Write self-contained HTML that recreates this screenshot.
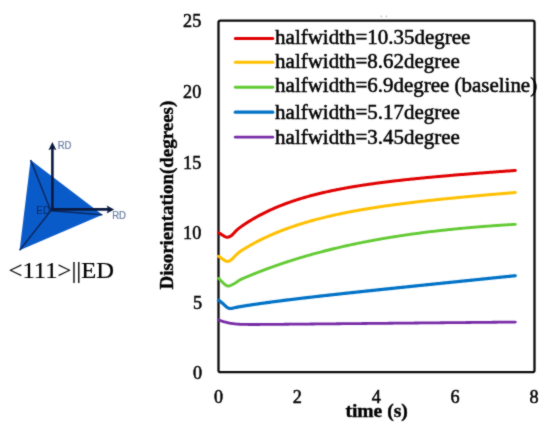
<!DOCTYPE html>
<html><head><meta charset="utf-8"><style>
html,body{margin:0;padding:0;background:#fff;}
svg{display:block;}
.tk{font-family:"Liberation Serif",serif;font-size:18.2px;fill:#000;stroke:#000;stroke-width:0.5px;}
.ax{font-family:"Liberation Serif",serif;font-size:18.7px;font-weight:bold;fill:#000;stroke:#000;stroke-width:0.4px;}
.lg{font-family:"Liberation Serif",serif;font-size:20.8px;fill:#000;stroke:#000;stroke-width:0.5px;}
.big{font-family:"Liberation Serif",serif;font-size:23px;fill:#000;stroke:#000;stroke-width:0.2px;}
.rd{font-family:"Liberation Sans",sans-serif;font-size:10.6px;fill:#6a7fa2;stroke:#6a7fa2;stroke-width:0.25px;}
.ed{font-family:"Liberation Sans",sans-serif;font-size:10.5px;fill:#0a2860;}
</style></head><body>
<svg width="550" height="432" viewBox="0 0 550 432">
<defs><filter id="soft" x="0" y="0" width="550" height="432" filterUnits="userSpaceOnUse" color-interpolation-filters="sRGB"><feConvolveMatrix order="3" kernelMatrix="1 2 1 2 16 2 1 2 1" divisor="28" edgeMode="duplicate"/></filter></defs>
<g filter="url(#soft)">
<rect width="550" height="432" fill="#fff"/>
<polygon points="30.6,160.0 102.4,214.7 19.6,250.2" fill="#0a5bca"/>
<line x1="50.8" y1="210.8" x2="30.6" y2="160.0" stroke="#0a2860" stroke-width="1.5"/>
<line x1="50.8" y1="210.8" x2="19.6" y2="250.2" stroke="#0a2860" stroke-width="1.5"/>
<line x1="50.8" y1="210.8" x2="102.4" y2="214.7" stroke="#0a2860" stroke-width="1.5"/>
<text transform="translate(36.3,213.6) scale(0.95,1)" class="ed">ED</text>
<line x1="52.4" y1="210.8" x2="52.4" y2="148" stroke="#0a1a40" stroke-width="2.6"/>
<polygon points="52.4,142 56.4,150.2 52.4,148.4 48.4,150.2" fill="#0a1a40"/>
<line x1="51.1" y1="209.4" x2="109" y2="209.4" stroke="#0a1a40" stroke-width="2.6"/>
<polygon points="114.2,209.4 106.6,205.4 108.2,209.4 106.6,213.4" fill="#0a1a40"/>
<text transform="translate(57.7,149.3) scale(0.9,1)" class="rd">RD</text>
<text transform="translate(112.2,219.0) scale(0.9,1)" class="rd">RD</text>
<text transform="translate(8.6,277.8) scale(1.07,1)" class="big">&lt;111&gt;||ED</text>
<rect x="218.5" y="20.6" width="316.0" height="351.6" fill="none" stroke="#0a0a0a" stroke-width="2.3" rx="2"/>
<path d="M218.5 232.75 L219.5 233.24 L220.5 233.86 L221.5 234.50 L222.5 235.12 L223.5 235.75 L224.5 236.36 L225.5 236.87 L226.5 237.18 L227.5 237.25 L228.5 237.08 L229.5 236.72 L230.5 236.21 L231.5 235.53 L232.5 234.63 L233.5 233.55 L234.5 232.43 L235.5 231.36 L236.5 230.39 L237.5 229.49 L238.5 228.64 L239.5 227.83 L240.5 227.07 L241.5 226.36 L242.5 225.67 L243.5 225.00 L244.5 224.33 L245.5 223.67 L246.5 223.02 L247.5 222.38 L248.5 221.75 L249.5 221.13 L250.5 220.52 L251.5 219.92 L252.5 219.32 L253.5 218.74 L254.5 218.16 L255.5 217.59 L256.5 217.03 L257.5 216.47 L258.5 215.93 L259.5 215.39 L260.5 214.86 L261.5 214.33 L262.5 213.82 L263.5 213.31 L264.5 212.81 L265.5 212.32 L266.5 211.83 L267.5 211.35 L268.5 210.87 L269.5 210.41 L270.5 209.95 L271.5 209.49 L272.5 209.04 L273.5 208.60 L274.5 208.17 L275.5 207.74 L276.5 207.31 L277.5 206.89 L278.5 206.48 L279.5 206.07 L280.5 205.67 L281.5 205.28 L282.5 204.88 L283.5 204.50 L284.5 204.12 L285.5 203.74 L286.5 203.37 L287.5 203.01 L288.5 202.65 L289.5 202.29 L290.5 201.94 L291.5 201.59 L292.5 201.25 L293.5 200.92 L294.5 200.58 L295.5 200.25 L296.5 199.93 L297.5 199.61 L298.5 199.29 L299.5 198.98 L300.5 198.67 L301.5 198.37 L302.5 198.07 L303.5 197.77 L304.5 197.48 L305.5 197.19 L306.5 196.90 L307.5 196.62 L308.5 196.34 L309.5 196.07 L310.5 195.80 L311.5 195.53 L312.5 195.26 L313.5 195.00 L314.5 194.74 L315.5 194.49 L316.5 194.24 L317.5 193.99 L318.5 193.74 L319.5 193.50 L320.5 193.26 L321.5 193.02 L322.5 192.78 L323.5 192.55 L324.5 192.32 L325.5 192.09 L326.5 191.87 L327.5 191.65 L328.5 191.43 L329.5 191.21 L330.5 191.00 L331.5 190.79 L332.5 190.58 L333.5 190.37 L334.5 190.17 L335.5 189.96 L336.5 189.76 L337.5 189.57 L338.5 189.37 L339.5 189.18 L340.5 188.98 L341.5 188.79 L342.5 188.61 L343.5 188.42 L344.5 188.24 L345.5 188.06 L346.5 187.88 L347.5 187.70 L348.5 187.52 L349.5 187.35 L350.5 187.18 L351.5 187.00 L352.5 186.84 L353.5 186.67 L354.5 186.50 L355.5 186.34 L356.5 186.18 L357.5 186.01 L358.5 185.86 L359.5 185.70 L360.5 185.54 L361.5 185.39 L362.5 185.23 L363.5 185.08 L364.5 184.93 L365.5 184.78 L366.5 184.63 L367.5 184.49 L368.5 184.34 L369.5 184.20 L370.5 184.06 L371.5 183.92 L372.5 183.78 L373.5 183.64 L374.5 183.50 L375.5 183.36 L376.5 183.23 L377.5 183.09 L378.5 182.96 L379.5 182.83 L380.5 182.70 L381.5 182.57 L382.5 182.44 L383.5 182.31 L384.5 182.19 L385.5 182.06 L386.5 181.94 L387.5 181.81 L388.5 181.69 L389.5 181.57 L390.5 181.45 L391.5 181.33 L392.5 181.21 L393.5 181.09 L394.5 180.97 L395.5 180.86 L396.5 180.74 L397.5 180.63 L398.5 180.51 L399.5 180.40 L400.5 180.29 L401.5 180.18 L402.5 180.07 L403.5 179.96 L404.5 179.85 L405.5 179.74 L406.5 179.63 L407.5 179.52 L408.5 179.42 L409.5 179.31 L410.5 179.21 L411.5 179.10 L412.5 179.00 L413.5 178.90 L414.5 178.79 L415.5 178.69 L416.5 178.59 L417.5 178.49 L418.5 178.39 L419.5 178.29 L420.5 178.19 L421.5 178.09 L422.5 178.00 L423.5 177.90 L424.5 177.80 L425.5 177.71 L426.5 177.61 L427.5 177.52 L428.5 177.42 L429.5 177.33 L430.5 177.23 L431.5 177.14 L432.5 177.05 L433.5 176.96 L434.5 176.87 L435.5 176.77 L436.5 176.68 L437.5 176.59 L438.5 176.50 L439.5 176.41 L440.5 176.32 L441.5 176.24 L442.5 176.15 L443.5 176.06 L444.5 175.97 L445.5 175.89 L446.5 175.80 L447.5 175.71 L448.5 175.63 L449.5 175.54 L450.5 175.46 L451.5 175.37 L452.5 175.29 L453.5 175.20 L454.5 175.12 L455.5 175.03 L456.5 174.95 L457.5 174.87 L458.5 174.79 L459.5 174.70 L460.5 174.62 L461.5 174.54 L462.5 174.46 L463.5 174.38 L464.5 174.30 L465.5 174.21 L466.5 174.13 L467.5 174.05 L468.5 173.97 L469.5 173.89 L470.5 173.82 L471.5 173.74 L472.5 173.66 L473.5 173.58 L474.5 173.50 L475.5 173.42 L476.5 173.34 L477.5 173.27 L478.5 173.19 L479.5 173.11 L480.5 173.04 L481.5 172.96 L482.5 172.88 L483.5 172.81 L484.5 172.73 L485.5 172.65 L486.5 172.58 L487.5 172.50 L488.5 172.43 L489.5 172.35 L490.5 172.28 L491.5 172.20 L492.5 172.13 L493.5 172.05 L494.5 171.98 L495.5 171.90 L496.5 171.83 L497.5 171.76 L498.5 171.68 L499.5 171.61 L500.5 171.54 L501.5 171.46 L502.5 171.39 L503.5 171.32 L504.5 171.25 L505.5 171.17 L506.5 171.10 L507.5 171.03 L508.5 170.96 L509.5 170.88 L510.5 170.81 L511.5 170.74 L512.5 170.67 L513.5 170.60 L514.5 170.53 L515.3 170.49" fill="none" stroke="#e00000" stroke-width="3.0" stroke-linecap="round" stroke-linejoin="round"/>
<path d="M218.5 256.29 L219.5 256.83 L220.5 257.54 L221.5 258.26 L222.5 258.96 L223.5 259.68 L224.5 260.37 L225.5 260.97 L226.5 261.38 L227.5 261.52 L228.5 261.35 L229.5 260.91 L230.5 260.29 L231.5 259.54 L232.5 258.64 L233.5 257.62 L234.5 256.56 L235.5 255.53 L236.5 254.56 L237.5 253.63 L238.5 252.75 L239.5 251.93 L240.5 251.19 L241.5 250.54 L242.5 249.92 L243.5 249.31 L244.5 248.70 L245.5 248.10 L246.5 247.51 L247.5 246.92 L248.5 246.34 L249.5 245.77 L250.5 245.20 L251.5 244.64 L252.5 244.09 L253.5 243.54 L254.5 243.00 L255.5 242.47 L256.5 241.95 L257.5 241.43 L258.5 240.91 L259.5 240.41 L260.5 239.91 L261.5 239.41 L262.5 238.92 L263.5 238.44 L264.5 237.96 L265.5 237.49 L266.5 237.02 L267.5 236.56 L268.5 236.11 L269.5 235.66 L270.5 235.21 L271.5 234.77 L272.5 234.34 L273.5 233.91 L274.5 233.49 L275.5 233.07 L276.5 232.65 L277.5 232.24 L278.5 231.84 L279.5 231.44 L280.5 231.04 L281.5 230.65 L282.5 230.27 L283.5 229.89 L284.5 229.51 L285.5 229.13 L286.5 228.77 L287.5 228.40 L288.5 228.04 L289.5 227.68 L290.5 227.33 L291.5 226.98 L292.5 226.64 L293.5 226.30 L294.5 225.96 L295.5 225.62 L296.5 225.29 L297.5 224.97 L298.5 224.65 L299.5 224.33 L300.5 224.01 L301.5 223.70 L302.5 223.39 L303.5 223.08 L304.5 222.78 L305.5 222.48 L306.5 222.19 L307.5 221.89 L308.5 221.60 L309.5 221.32 L310.5 221.03 L311.5 220.75 L312.5 220.48 L313.5 220.20 L314.5 219.93 L315.5 219.66 L316.5 219.40 L317.5 219.13 L318.5 218.87 L319.5 218.61 L320.5 218.36 L321.5 218.10 L322.5 217.85 L323.5 217.61 L324.5 217.36 L325.5 217.12 L326.5 216.88 L327.5 216.64 L328.5 216.40 L329.5 216.17 L330.5 215.94 L331.5 215.71 L332.5 215.48 L333.5 215.26 L334.5 215.04 L335.5 214.82 L336.5 214.60 L337.5 214.38 L338.5 214.17 L339.5 213.96 L340.5 213.75 L341.5 213.54 L342.5 213.33 L343.5 213.13 L344.5 212.93 L345.5 212.73 L346.5 212.53 L347.5 212.33 L348.5 212.14 L349.5 211.94 L350.5 211.75 L351.5 211.56 L352.5 211.37 L353.5 211.19 L354.5 211.00 L355.5 210.82 L356.5 210.64 L357.5 210.46 L358.5 210.28 L359.5 210.10 L360.5 209.92 L361.5 209.75 L362.5 209.58 L363.5 209.41 L364.5 209.24 L365.5 209.07 L366.5 208.90 L367.5 208.73 L368.5 208.57 L369.5 208.41 L370.5 208.25 L371.5 208.09 L372.5 207.93 L373.5 207.77 L374.5 207.61 L375.5 207.46 L376.5 207.30 L377.5 207.15 L378.5 207.00 L379.5 206.85 L380.5 206.70 L381.5 206.55 L382.5 206.40 L383.5 206.25 L384.5 206.11 L385.5 205.96 L386.5 205.82 L387.5 205.68 L388.5 205.54 L389.5 205.40 L390.5 205.26 L391.5 205.12 L392.5 204.98 L393.5 204.85 L394.5 204.71 L395.5 204.58 L396.5 204.44 L397.5 204.31 L398.5 204.18 L399.5 204.05 L400.5 203.92 L401.5 203.79 L402.5 203.66 L403.5 203.53 L404.5 203.41 L405.5 203.28 L406.5 203.15 L407.5 203.03 L408.5 202.91 L409.5 202.78 L410.5 202.66 L411.5 202.54 L412.5 202.42 L413.5 202.30 L414.5 202.18 L415.5 202.06 L416.5 201.94 L417.5 201.83 L418.5 201.71 L419.5 201.59 L420.5 201.48 L421.5 201.36 L422.5 201.25 L423.5 201.14 L424.5 201.02 L425.5 200.91 L426.5 200.80 L427.5 200.69 L428.5 200.58 L429.5 200.47 L430.5 200.36 L431.5 200.25 L432.5 200.14 L433.5 200.04 L434.5 199.93 L435.5 199.82 L436.5 199.72 L437.5 199.61 L438.5 199.50 L439.5 199.40 L440.5 199.30 L441.5 199.19 L442.5 199.09 L443.5 198.99 L444.5 198.88 L445.5 198.78 L446.5 198.68 L447.5 198.58 L448.5 198.48 L449.5 198.38 L450.5 198.28 L451.5 198.18 L452.5 198.08 L453.5 197.98 L454.5 197.89 L455.5 197.79 L456.5 197.69 L457.5 197.60 L458.5 197.50 L459.5 197.40 L460.5 197.31 L461.5 197.21 L462.5 197.12 L463.5 197.02 L464.5 196.93 L465.5 196.83 L466.5 196.74 L467.5 196.65 L468.5 196.56 L469.5 196.46 L470.5 196.37 L471.5 196.28 L472.5 196.19 L473.5 196.10 L474.5 196.01 L475.5 195.91 L476.5 195.82 L477.5 195.73 L478.5 195.64 L479.5 195.55 L480.5 195.47 L481.5 195.38 L482.5 195.29 L483.5 195.20 L484.5 195.11 L485.5 195.02 L486.5 194.94 L487.5 194.85 L488.5 194.76 L489.5 194.67 L490.5 194.59 L491.5 194.50 L492.5 194.42 L493.5 194.33 L494.5 194.24 L495.5 194.16 L496.5 194.07 L497.5 193.99 L498.5 193.90 L499.5 193.82 L500.5 193.73 L501.5 193.65 L502.5 193.57 L503.5 193.48 L504.5 193.40 L505.5 193.31 L506.5 193.23 L507.5 193.15 L508.5 193.07 L509.5 192.98 L510.5 192.90 L511.5 192.82 L512.5 192.74 L513.5 192.66 L514.5 192.58 L515.3 192.53" fill="none" stroke="#ffc000" stroke-width="3.0" stroke-linecap="round" stroke-linejoin="round"/>
<path d="M218.5 278.43 L219.5 279.24 L220.5 280.28 L221.5 281.30 L222.5 282.26 L223.5 283.20 L224.5 284.10 L225.5 284.92 L226.5 285.56 L227.5 285.94 L228.5 286.04 L229.5 285.85 L230.5 285.49 L231.5 285.04 L232.5 284.55 L233.5 284.04 L234.5 283.48 L235.5 282.88 L236.5 282.23 L237.5 281.53 L238.5 280.81 L239.5 280.15 L240.5 279.59 L241.5 279.12 L242.5 278.69 L243.5 278.27 L244.5 277.85 L245.5 277.42 L246.5 277.00 L247.5 276.58 L248.5 276.16 L249.5 275.75 L250.5 275.33 L251.5 274.92 L252.5 274.52 L253.5 274.11 L254.5 273.71 L255.5 273.31 L256.5 272.91 L257.5 272.52 L258.5 272.12 L259.5 271.73 L260.5 271.35 L261.5 270.96 L262.5 270.58 L263.5 270.20 L264.5 269.82 L265.5 269.44 L266.5 269.07 L267.5 268.70 L268.5 268.33 L269.5 267.96 L270.5 267.60 L271.5 267.24 L272.5 266.88 L273.5 266.52 L274.5 266.17 L275.5 265.81 L276.5 265.46 L277.5 265.11 L278.5 264.77 L279.5 264.42 L280.5 264.08 L281.5 263.74 L282.5 263.40 L283.5 263.07 L284.5 262.73 L285.5 262.40 L286.5 262.07 L287.5 261.75 L288.5 261.42 L289.5 261.10 L290.5 260.78 L291.5 260.46 L292.5 260.14 L293.5 259.83 L294.5 259.51 L295.5 259.20 L296.5 258.90 L297.5 258.59 L298.5 258.28 L299.5 257.98 L300.5 257.68 L301.5 257.38 L302.5 257.08 L303.5 256.79 L304.5 256.49 L305.5 256.20 L306.5 255.91 L307.5 255.63 L308.5 255.34 L309.5 255.06 L310.5 254.77 L311.5 254.49 L312.5 254.21 L313.5 253.94 L314.5 253.66 L315.5 253.39 L316.5 253.12 L317.5 252.85 L318.5 252.58 L319.5 252.32 L320.5 252.05 L321.5 251.79 L322.5 251.53 L323.5 251.27 L324.5 251.01 L325.5 250.75 L326.5 250.50 L327.5 250.25 L328.5 250.00 L329.5 249.75 L330.5 249.50 L331.5 249.25 L332.5 249.01 L333.5 248.77 L334.5 248.53 L335.5 248.29 L336.5 248.05 L337.5 247.81 L338.5 247.58 L339.5 247.35 L340.5 247.11 L341.5 246.88 L342.5 246.66 L343.5 246.43 L344.5 246.20 L345.5 245.98 L346.5 245.76 L347.5 245.54 L348.5 245.32 L349.5 245.10 L350.5 244.88 L351.5 244.67 L352.5 244.45 L353.5 244.24 L354.5 244.03 L355.5 243.82 L356.5 243.61 L357.5 243.41 L358.5 243.20 L359.5 243.00 L360.5 242.80 L361.5 242.60 L362.5 242.40 L363.5 242.20 L364.5 242.00 L365.5 241.81 L366.5 241.61 L367.5 241.42 L368.5 241.23 L369.5 241.04 L370.5 240.85 L371.5 240.66 L372.5 240.48 L373.5 240.29 L374.5 240.11 L375.5 239.93 L376.5 239.74 L377.5 239.56 L378.5 239.39 L379.5 239.21 L380.5 239.03 L381.5 238.86 L382.5 238.69 L383.5 238.51 L384.5 238.34 L385.5 238.17 L386.5 238.00 L387.5 237.84 L388.5 237.67 L389.5 237.50 L390.5 237.34 L391.5 237.18 L392.5 237.02 L393.5 236.86 L394.5 236.70 L395.5 236.54 L396.5 236.38 L397.5 236.23 L398.5 236.07 L399.5 235.92 L400.5 235.77 L401.5 235.61 L402.5 235.46 L403.5 235.32 L404.5 235.17 L405.5 235.02 L406.5 234.87 L407.5 234.73 L408.5 234.59 L409.5 234.44 L410.5 234.30 L411.5 234.16 L412.5 234.02 L413.5 233.88 L414.5 233.75 L415.5 233.61 L416.5 233.47 L417.5 233.34 L418.5 233.21 L419.5 233.07 L420.5 232.94 L421.5 232.81 L422.5 232.68 L423.5 232.55 L424.5 232.43 L425.5 232.30 L426.5 232.18 L427.5 232.05 L428.5 231.93 L429.5 231.80 L430.5 231.68 L431.5 231.56 L432.5 231.44 L433.5 231.32 L434.5 231.21 L435.5 231.09 L436.5 230.97 L437.5 230.86 L438.5 230.74 L439.5 230.63 L440.5 230.52 L441.5 230.41 L442.5 230.30 L443.5 230.19 L444.5 230.08 L445.5 229.97 L446.5 229.86 L447.5 229.75 L448.5 229.65 L449.5 229.54 L450.5 229.44 L451.5 229.34 L452.5 229.24 L453.5 229.13 L454.5 229.03 L455.5 228.93 L456.5 228.83 L457.5 228.74 L458.5 228.64 L459.5 228.54 L460.5 228.45 L461.5 228.35 L462.5 228.26 L463.5 228.17 L464.5 228.07 L465.5 227.98 L466.5 227.89 L467.5 227.80 L468.5 227.71 L469.5 227.62 L470.5 227.53 L471.5 227.45 L472.5 227.36 L473.5 227.28 L474.5 227.19 L475.5 227.11 L476.5 227.02 L477.5 226.94 L478.5 226.86 L479.5 226.78 L480.5 226.70 L481.5 226.62 L482.5 226.54 L483.5 226.46 L484.5 226.38 L485.5 226.30 L486.5 226.23 L487.5 226.15 L488.5 226.08 L489.5 226.00 L490.5 225.93 L491.5 225.86 L492.5 225.78 L493.5 225.71 L494.5 225.64 L495.5 225.57 L496.5 225.50 L497.5 225.43 L498.5 225.36 L499.5 225.30 L500.5 225.23 L501.5 225.16 L502.5 225.10 L503.5 225.03 L504.5 224.97 L505.5 224.90 L506.5 224.84 L507.5 224.78 L508.5 224.72 L509.5 224.65 L510.5 224.59 L511.5 224.53 L512.5 224.47 L513.5 224.42 L514.5 224.36 L515.3 224.33" fill="none" stroke="#62ca33" stroke-width="2.9" stroke-linecap="round" stroke-linejoin="round"/>
<path d="M218.5 300.30 L219.5 300.86 L220.5 301.62 L221.5 302.42 L222.5 303.25 L223.5 304.15 L224.5 305.10 L225.5 306.04 L226.5 306.92 L227.5 307.65 L228.5 308.17 L229.5 308.45 L230.5 308.49 L231.5 308.39 L232.5 308.20 L233.5 308.00 L234.5 307.78 L235.5 307.55 L236.5 307.32 L237.5 307.11 L238.5 306.92 L239.5 306.73 L240.5 306.56 L241.5 306.40 L242.5 306.24 L243.5 306.08 L244.5 305.92 L245.5 305.76 L246.5 305.61 L247.5 305.45 L248.5 305.30 L249.5 305.14 L250.5 304.99 L251.5 304.84 L252.5 304.69 L253.5 304.54 L254.5 304.39 L255.5 304.25 L256.5 304.10 L257.5 303.96 L258.5 303.81 L259.5 303.67 L260.5 303.53 L261.5 303.39 L262.5 303.25 L263.5 303.11 L264.5 302.97 L265.5 302.83 L266.5 302.69 L267.5 302.56 L268.5 302.42 L269.5 302.29 L270.5 302.15 L271.5 302.02 L272.5 301.88 L273.5 301.75 L274.5 301.62 L275.5 301.49 L276.5 301.36 L277.5 301.23 L278.5 301.10 L279.5 300.97 L280.5 300.84 L281.5 300.72 L282.5 300.59 L283.5 300.46 L284.5 300.34 L285.5 300.21 L286.5 300.09 L287.5 299.96 L288.5 299.84 L289.5 299.72 L290.5 299.59 L291.5 299.47 L292.5 299.35 L293.5 299.23 L294.5 299.11 L295.5 298.99 L296.5 298.87 L297.5 298.75 L298.5 298.63 L299.5 298.51 L300.5 298.39 L301.5 298.27 L302.5 298.15 L303.5 298.03 L304.5 297.92 L305.5 297.80 L306.5 297.68 L307.5 297.57 L308.5 297.45 L309.5 297.33 L310.5 297.22 L311.5 297.10 L312.5 296.99 L313.5 296.87 L314.5 296.76 L315.5 296.64 L316.5 296.53 L317.5 296.42 L318.5 296.30 L319.5 296.19 L320.5 296.08 L321.5 295.96 L322.5 295.85 L323.5 295.74 L324.5 295.63 L325.5 295.52 L326.5 295.40 L327.5 295.29 L328.5 295.18 L329.5 295.07 L330.5 294.96 L331.5 294.85 L332.5 294.74 L333.5 294.63 L334.5 294.52 L335.5 294.41 L336.5 294.30 L337.5 294.19 L338.5 294.08 L339.5 293.97 L340.5 293.86 L341.5 293.75 L342.5 293.64 L343.5 293.53 L344.5 293.43 L345.5 293.32 L346.5 293.21 L347.5 293.10 L348.5 292.99 L349.5 292.89 L350.5 292.78 L351.5 292.67 L352.5 292.56 L353.5 292.46 L354.5 292.35 L355.5 292.24 L356.5 292.13 L357.5 292.03 L358.5 291.92 L359.5 291.81 L360.5 291.71 L361.5 291.60 L362.5 291.49 L363.5 291.39 L364.5 291.28 L365.5 291.17 L366.5 291.07 L367.5 290.96 L368.5 290.86 L369.5 290.75 L370.5 290.65 L371.5 290.54 L372.5 290.43 L373.5 290.33 L374.5 290.22 L375.5 290.12 L376.5 290.01 L377.5 289.91 L378.5 289.80 L379.5 289.70 L380.5 289.59 L381.5 289.49 L382.5 289.38 L383.5 289.28 L384.5 289.17 L385.5 289.07 L386.5 288.96 L387.5 288.86 L388.5 288.75 L389.5 288.65 L390.5 288.54 L391.5 288.44 L392.5 288.34 L393.5 288.23 L394.5 288.13 L395.5 288.02 L396.5 287.92 L397.5 287.81 L398.5 287.71 L399.5 287.61 L400.5 287.50 L401.5 287.40 L402.5 287.29 L403.5 287.19 L404.5 287.09 L405.5 286.98 L406.5 286.88 L407.5 286.78 L408.5 286.67 L409.5 286.57 L410.5 286.46 L411.5 286.36 L412.5 286.26 L413.5 286.15 L414.5 286.05 L415.5 285.95 L416.5 285.84 L417.5 285.74 L418.5 285.64 L419.5 285.53 L420.5 285.43 L421.5 285.33 L422.5 285.22 L423.5 285.12 L424.5 285.02 L425.5 284.91 L426.5 284.81 L427.5 284.71 L428.5 284.60 L429.5 284.50 L430.5 284.40 L431.5 284.29 L432.5 284.19 L433.5 284.09 L434.5 283.98 L435.5 283.88 L436.5 283.78 L437.5 283.68 L438.5 283.57 L439.5 283.47 L440.5 283.37 L441.5 283.26 L442.5 283.16 L443.5 283.06 L444.5 282.96 L445.5 282.85 L446.5 282.75 L447.5 282.65 L448.5 282.54 L449.5 282.44 L450.5 282.34 L451.5 282.24 L452.5 282.13 L453.5 282.03 L454.5 281.93 L455.5 281.83 L456.5 281.72 L457.5 281.62 L458.5 281.52 L459.5 281.41 L460.5 281.31 L461.5 281.21 L462.5 281.11 L463.5 281.00 L464.5 280.90 L465.5 280.80 L466.5 280.70 L467.5 280.59 L468.5 280.49 L469.5 280.39 L470.5 280.29 L471.5 280.18 L472.5 280.08 L473.5 279.98 L474.5 279.88 L475.5 279.77 L476.5 279.67 L477.5 279.57 L478.5 279.47 L479.5 279.36 L480.5 279.26 L481.5 279.16 L482.5 279.06 L483.5 278.95 L484.5 278.85 L485.5 278.75 L486.5 278.65 L487.5 278.54 L488.5 278.44 L489.5 278.34 L490.5 278.24 L491.5 278.13 L492.5 278.03 L493.5 277.93 L494.5 277.83 L495.5 277.72 L496.5 277.62 L497.5 277.52 L498.5 277.42 L499.5 277.32 L500.5 277.21 L501.5 277.11 L502.5 277.01 L503.5 276.91 L504.5 276.80 L505.5 276.70 L506.5 276.60 L507.5 276.50 L508.5 276.39 L509.5 276.29 L510.5 276.19 L511.5 276.09 L512.5 275.99 L513.5 275.88 L514.5 275.79 L515.3 275.73" fill="none" stroke="#0072c6" stroke-width="3.2" stroke-linecap="round" stroke-linejoin="round"/>
<path d="M218.5 319.95 L219.5 320.24 L220.5 320.61 L221.5 320.98 L222.5 321.33 L223.5 321.66 L224.5 321.95 L225.5 322.22 L226.5 322.47 L227.5 322.70 L228.5 322.92 L229.5 323.12 L230.5 323.30 L231.5 323.46 L232.5 323.61 L233.5 323.73 L234.5 323.85 L235.5 323.95 L236.5 324.05 L237.5 324.14 L238.5 324.21 L239.5 324.27 L240.5 324.32 L241.5 324.35 L242.5 324.38 L243.5 324.41 L244.5 324.43 L245.5 324.45 L246.5 324.46 L247.5 324.47 L248.5 324.48 L249.5 324.49 L250.5 324.49 L251.5 324.49 L252.5 324.50 L253.5 324.50 L254.5 324.49 L255.5 324.49 L256.5 324.49 L257.5 324.49 L258.5 324.48 L259.5 324.48 L260.5 324.47 L261.5 324.46 L262.5 324.46 L263.5 324.45 L264.5 324.44 L265.5 324.44 L266.5 324.43 L267.5 324.42 L268.5 324.41 L269.5 324.40 L270.5 324.40 L271.5 324.39 L272.5 324.38 L273.5 324.37 L274.5 324.36 L275.5 324.35 L276.5 324.34 L277.5 324.33 L278.5 324.32 L279.5 324.31 L280.5 324.31 L281.5 324.30 L282.5 324.29 L283.5 324.28 L284.5 324.27 L285.5 324.26 L286.5 324.25 L287.5 324.24 L288.5 324.23 L289.5 324.22 L290.5 324.21 L291.5 324.20 L292.5 324.19 L293.5 324.18 L294.5 324.17 L295.5 324.16 L296.5 324.15 L297.5 324.14 L298.5 324.13 L299.5 324.12 L300.5 324.12 L301.5 324.11 L302.5 324.10 L303.5 324.09 L304.5 324.08 L305.5 324.07 L306.5 324.06 L307.5 324.05 L308.5 324.04 L309.5 324.03 L310.5 324.02 L311.5 324.01 L312.5 324.00 L313.5 323.99 L314.5 323.98 L315.5 323.97 L316.5 323.96 L317.5 323.95 L318.5 323.94 L319.5 323.93 L320.5 323.92 L321.5 323.91 L322.5 323.90 L323.5 323.89 L324.5 323.88 L325.5 323.88 L326.5 323.87 L327.5 323.86 L328.5 323.85 L329.5 323.84 L330.5 323.83 L331.5 323.82 L332.5 323.81 L333.5 323.80 L334.5 323.79 L335.5 323.78 L336.5 323.77 L337.5 323.76 L338.5 323.75 L339.5 323.74 L340.5 323.73 L341.5 323.72 L342.5 323.71 L343.5 323.70 L344.5 323.69 L345.5 323.68 L346.5 323.67 L347.5 323.66 L348.5 323.65 L349.5 323.64 L350.5 323.63 L351.5 323.63 L352.5 323.62 L353.5 323.61 L354.5 323.60 L355.5 323.59 L356.5 323.58 L357.5 323.57 L358.5 323.56 L359.5 323.55 L360.5 323.54 L361.5 323.53 L362.5 323.52 L363.5 323.51 L364.5 323.50 L365.5 323.49 L366.5 323.48 L367.5 323.47 L368.5 323.46 L369.5 323.45 L370.5 323.44 L371.5 323.43 L372.5 323.42 L373.5 323.41 L374.5 323.40 L375.5 323.39 L376.5 323.39 L377.5 323.38 L378.5 323.37 L379.5 323.36 L380.5 323.35 L381.5 323.34 L382.5 323.33 L383.5 323.32 L384.5 323.31 L385.5 323.30 L386.5 323.29 L387.5 323.28 L388.5 323.27 L389.5 323.26 L390.5 323.25 L391.5 323.24 L392.5 323.23 L393.5 323.22 L394.5 323.21 L395.5 323.20 L396.5 323.19 L397.5 323.18 L398.5 323.17 L399.5 323.16 L400.5 323.15 L401.5 323.14 L402.5 323.14 L403.5 323.13 L404.5 323.12 L405.5 323.11 L406.5 323.10 L407.5 323.09 L408.5 323.08 L409.5 323.07 L410.5 323.06 L411.5 323.05 L412.5 323.04 L413.5 323.03 L414.5 323.02 L415.5 323.01 L416.5 323.00 L417.5 322.99 L418.5 322.98 L419.5 322.97 L420.5 322.96 L421.5 322.95 L422.5 322.94 L423.5 322.93 L424.5 322.92 L425.5 322.91 L426.5 322.90 L427.5 322.90 L428.5 322.89 L429.5 322.88 L430.5 322.87 L431.5 322.86 L432.5 322.85 L433.5 322.84 L434.5 322.83 L435.5 322.82 L436.5 322.81 L437.5 322.80 L438.5 322.79 L439.5 322.78 L440.5 322.77 L441.5 322.76 L442.5 322.75 L443.5 322.74 L444.5 322.73 L445.5 322.72 L446.5 322.71 L447.5 322.70 L448.5 322.69 L449.5 322.68 L450.5 322.67 L451.5 322.66 L452.5 322.65 L453.5 322.65 L454.5 322.64 L455.5 322.63 L456.5 322.62 L457.5 322.61 L458.5 322.60 L459.5 322.59 L460.5 322.58 L461.5 322.57 L462.5 322.56 L463.5 322.55 L464.5 322.54 L465.5 322.53 L466.5 322.52 L467.5 322.51 L468.5 322.50 L469.5 322.49 L470.5 322.48 L471.5 322.47 L472.5 322.46 L473.5 322.45 L474.5 322.44 L475.5 322.43 L476.5 322.42 L477.5 322.41 L478.5 322.41 L479.5 322.40 L480.5 322.39 L481.5 322.38 L482.5 322.37 L483.5 322.36 L484.5 322.35 L485.5 322.34 L486.5 322.33 L487.5 322.32 L488.5 322.31 L489.5 322.30 L490.5 322.29 L491.5 322.28 L492.5 322.27 L493.5 322.26 L494.5 322.25 L495.5 322.24 L496.5 322.23 L497.5 322.22 L498.5 322.21 L499.5 322.20 L500.5 322.19 L501.5 322.18 L502.5 322.17 L503.5 322.16 L504.5 322.16 L505.5 322.15 L506.5 322.14 L507.5 322.13 L508.5 322.12 L509.5 322.11 L510.5 322.10 L511.5 322.09 L512.5 322.08 L513.5 322.07 L514.5 322.06 L515.3 322.05" fill="none" stroke="#782ca6" stroke-width="2.8" stroke-linecap="round" stroke-linejoin="round"/>
<text x="202.0" y="379.2" text-anchor="end" class="tk">0</text>
<text x="202.0" y="308.9" text-anchor="end" class="tk">5</text>
<text x="201.3" y="239.1" text-anchor="end" class="tk">10</text>
<text x="201.3" y="168.6" text-anchor="end" class="tk">15</text>
<text x="201.3" y="97.8" text-anchor="end" class="tk">20</text>
<text x="201.3" y="26.7" text-anchor="end" class="tk">25</text>
<text x="218.5" y="402.6" text-anchor="middle" class="tk">0</text>
<text x="297.4" y="402.6" text-anchor="middle" class="tk">2</text>
<text x="376.2" y="402.6" text-anchor="middle" class="tk">4</text>
<text x="455.1" y="402.6" text-anchor="middle" class="tk">6</text>
<text x="534.0" y="402.6" text-anchor="middle" class="tk">8</text>
<text transform="translate(345.4,416.8) scale(1.045,1)" class="ax">time (s)</text>
<text transform="translate(173.0,289.5) rotate(-90) scale(1.012,1)" class="ax">Disorientation(degrees)</text>
<line x1="235.3" y1="38.6" x2="272.8" y2="38.6" stroke="#e00000" stroke-width="3.0" stroke-linecap="round"/>
<text transform="translate(275.1,43.7) scale(1.008,1)" class="lg">halfwidth=10.35degree</text>
<line x1="235.3" y1="62.3" x2="272.8" y2="62.3" stroke="#ffc000" stroke-width="3.0" stroke-linecap="round"/>
<text transform="translate(275.1,68.4) scale(1.008,1)" class="lg">halfwidth=8.62degree</text>
<line x1="235.3" y1="87.3" x2="272.8" y2="87.3" stroke="#62ca33" stroke-width="2.9" stroke-linecap="round"/>
<text transform="translate(275.1,91.7) scale(1.008,1)" class="lg">halfwidth=6.9degree (baseline)</text>
<line x1="235.3" y1="112.2" x2="272.8" y2="112.2" stroke="#0072c6" stroke-width="3.2" stroke-linecap="round"/>
<text transform="translate(275.1,118.75) scale(1.008,1)" class="lg">halfwidth=5.17degree</text>
<line x1="235.3" y1="137.2" x2="272.8" y2="137.2" stroke="#782ca6" stroke-width="2.8" stroke-linecap="round"/>
<text transform="translate(275.1,143.8) scale(1.008,1)" class="lg">halfwidth=3.45degree</text>
<circle cx="381.3" cy="16.4" r="0.8" fill="#bbb"/><circle cx="386.4" cy="16.4" r="0.8" fill="#bbb"/>
</g>
</svg>
</body></html>
